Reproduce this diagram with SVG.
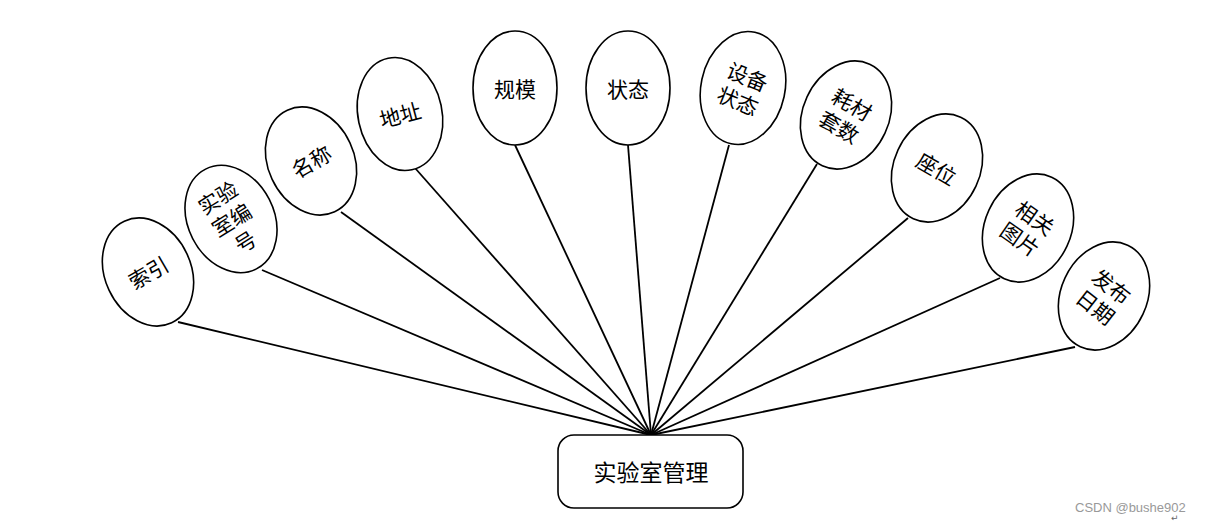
<svg xmlns="http://www.w3.org/2000/svg" width="1205" height="522" viewBox="0 0 1205 522">
<style>
.e{fill:#fff;stroke:#000;stroke-width:1.6}
.t{font-family:"Noto Sans CJK SC","Noto Sans",sans-serif;font-size:21px;fill:#000;text-anchor:middle;dominant-baseline:central}
.c line{stroke:#000;stroke-width:1.8}
</style>
<rect width="1205" height="522" fill="#fff"/>
<g class="c" id="connectors">
<line x1="178" y1="322" x2="651" y2="435"/>
<line x1="262" y1="270" x2="651" y2="435"/>
<line x1="341" y1="212" x2="651" y2="435"/>
<line x1="415" y1="168" x2="651" y2="435"/>
<line x1="515" y1="145" x2="651" y2="435"/>
<line x1="628" y1="145" x2="651" y2="435"/>
<line x1="729" y1="145" x2="651" y2="435"/>
<line x1="817" y1="164" x2="651" y2="435"/>
<line x1="908" y1="218" x2="651" y2="435"/>
<line x1="1000" y1="278" x2="651" y2="435"/>
<line x1="1075" y1="347" x2="651" y2="435"/>
</g>
<g id="n1" transform="translate(148,272)"><ellipse class="e" rx="43" ry="56" transform="rotate(-25)"/><text class="t" transform="rotate(-30)">索引</text></g>
<g id="n2" transform="translate(231,219)"><ellipse class="e" rx="43" ry="56" transform="rotate(-27)"/><g transform="rotate(-32)"><text class="t" y="-26">实验</text><text class="t" y="0">室编</text><text class="t" y="26">号</text></g></g>
<g id="n3" transform="translate(311,161)"><ellipse class="e" rx="43" ry="56" transform="rotate(-25)"/><text class="t" transform="rotate(-30)">名称</text></g>
<g id="n4" transform="translate(400,114)"><ellipse class="e" rx="42" ry="57" transform="rotate(-12)"/><text class="t" transform="rotate(-15)">地址</text></g>
<g id="n5" transform="translate(515,88)"><ellipse class="e" rx="42" ry="57"/><text class="t">规模</text></g>
<g id="n6" transform="translate(628,88)"><ellipse class="e" rx="42" ry="57"/><text class="t">状态</text></g>
<g id="n7" transform="translate(743,88)"><ellipse class="e" rx="42" ry="57" transform="rotate(12)"/><g transform="rotate(22)"><text class="t" y="-13">设备</text><text class="t" y="13">状态</text></g></g>
<g id="n8" transform="translate(846,115)"><ellipse class="e" rx="43" ry="56" transform="rotate(25)"/><g transform="rotate(30)"><text class="t" y="-13">耗材</text><text class="t" y="13">套数</text></g></g>
<g id="n9" transform="translate(937,168)"><ellipse class="e" rx="43" ry="56" transform="rotate(25)"/><text class="t" transform="rotate(30)">座位</text></g>
<g id="n10" transform="translate(1028,228)"><ellipse class="e" rx="43" ry="56" transform="rotate(25)"/><g transform="rotate(35)"><text class="t" y="-13">相关</text><text class="t" y="13">图片</text></g></g>
<g id="n11" transform="translate(1104,296)"><ellipse class="e" rx="43" ry="56" transform="rotate(25)"/><g transform="rotate(38)"><text class="t" y="-13">发布</text><text class="t" y="13">日期</text></g></g>
<g id="root"><rect x="558" y="435" width="185" height="73" rx="16" class="e"/><text class="t" x="651" y="471" style="font-size:23px">实验室管理</text></g>
<text x="1075" y="512" style="font-family:'Liberation Sans',Arial,sans-serif;font-size:13px;fill:#999">CSDN @bushe902</text>
<text x="1171" y="521" style="font-family:'DejaVu Sans',sans-serif;font-size:9px;fill:#666">↵</text>
</svg>
